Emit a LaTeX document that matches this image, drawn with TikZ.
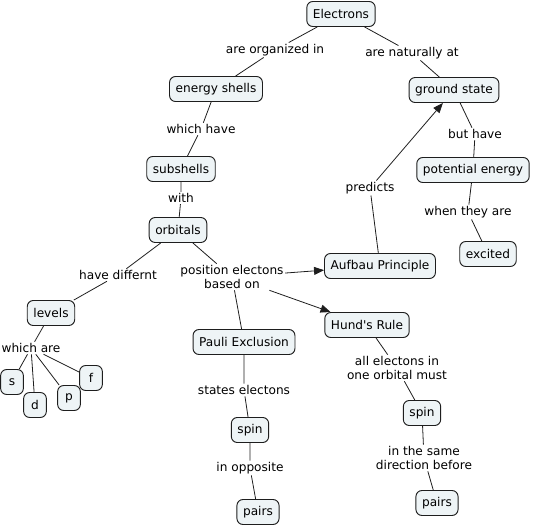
\documentclass[tikz,border=0pt]{standalone}
\usepackage{fontspec}
\setmainfont{DejaVu Sans}[Ligatures=TeXOff]
\usetikzlibrary{arrows.meta}
\definecolor{conceptfill}{RGB}{238,244,246}
\definecolor{linkgray}{RGB}{30,30,30}
\begin{document}
\begin{tikzpicture}[x=0.75pt,y=0.75pt,yscale=-1,xscale=1,
  concept/.style={draw=linkgray, rounded corners=4.5pt, fill=conceptfill, inner xsep=4.6pt, inner ysep=0pt, minimum height=18.75pt, font=\fontsize{9.1}{10}\selectfont, line width=0.7pt},
  letter/.style={concept, minimum width=17pt, inner xsep=2pt},
  phrase/.style={inner sep=1pt, align=center, font=\fontsize{9.1}{10.5}\selectfont},
  link/.style={draw=linkgray, line width=0.6pt},
  linkarrow/.style={link, -{Triangle[length=7.5pt,width=6pt]}}]
%set diagram size 533 x 529
\path (0,0) rectangle (533,529);

%Concepts
\node[concept] (electrons) at (341,14) {Electrons};
\node[concept] (eshells) at (216,89) {energy shells};
\node[concept] (ground) at (454,90) {ground state};
\node[concept] (subshells) at (181,169) {subshells};
\node[concept] (potential) at (473,170) {potential energy};
\node[concept] (orbitals) at (178,230) {orbitals};
\node[concept] (excited) at (488,254) {excited};
\node[concept] (aufbau) at (380,266) {Aufbau Principle};
\node[concept] (levels) at (51,313) {levels};
\node[concept] (hund) at (367,325) {Hund's Rule};
\node[concept] (pauli) at (244,342) {Pauli Exclusion};
\node[letter] (s) at (12,382) {s};
\node[letter] (d) at (35,405) {d};
\node[letter] (p) at (69,398) {p};
\node[letter] (f) at (91,378) {f};
\node[concept] (spinl) at (250,430) {spin};
\node[concept] (spinr) at (422,413) {spin};
\node[concept] (pairsl) at (258,512) {pairs};
\node[concept] (pairsr) at (437,503) {pairs};

%Linking phrases
\node[phrase] (organized) at (275,50) {are organized in};
\node[phrase] (naturally) at (412,53) {are naturally at};
\node[phrase] (whichhave) at (201,129) {which have};
\node[phrase] (buthave) at (475,134) {but have};
\node[phrase] (predicts) at (370,188) {predicts};
\node[phrase] (with) at (181,198) {with};
\node[phrase] (whenthey) at (468,212) {when they are};
\node[phrase] (differnt) at (118,275) {have differnt};
\node[phrase] (position) at (232,277) {position electons\\based on};
\node[phrase] (whichare) at (31,348) {which are};
\node[phrase] (allelectons) at (397,368) {all electons in\\one orbital must};
\node[phrase] (states) at (244,390) {states electons};
\node[phrase] (opposite) at (250,468) {in opposite};
\node[phrase] (same) at (424,458) {in the same\\direction before};

%Connections
\draw[link] (electrons) -- (organized) -- (eshells);
\draw[link] (electrons) -- (naturally) -- (ground);
\draw[link] (eshells) -- (whichhave) -- (subshells);
\draw[link] (subshells) -- (with) -- (orbitals);
\draw[link] (ground) -- (buthave) -- (potential);
\draw[link] (potential) -- (whenthey) -- (excited);
\draw[link] (aufbau) -- (predicts);
\draw[linkarrow] (predicts) -- (ground);
\draw[link] (orbitals) -- (differnt) -- (levels);
\draw[link] (levels) -- (whichare);
\foreach \leaf in {s,d,p,f}
  \draw[link] (whichare) -- (\leaf);
\draw[link] (orbitals) -- (position);
\draw[linkarrow] (position) -- (aufbau);
\draw[linkarrow] (position) -- (hund);
\draw[link] (position) -- (pauli);
\draw[link] (pauli) -- (states) -- (spinl);
\draw[link] (spinl) -- (opposite) -- (pairsl);
\draw[link] (hund) -- (allelectons) -- (spinr);
\draw[link] (spinr) -- (same) -- (pairsr);

\end{tikzpicture}
\end{document}
